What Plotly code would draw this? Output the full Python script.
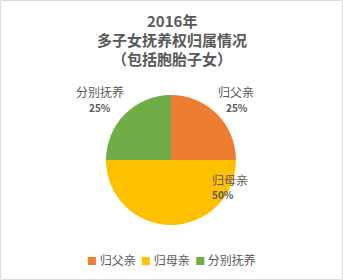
import plotly.graph_objects as go

categories = ["归父亲", "归母亲", "分别抚养"]
values = [25, 50, 25]
colors = ["#ED7D31", "#FFC000", "#70AD47"]
title_lines = ["2016年", "多子女抚养权归属情况", "（包括胞胎子女）"]

FONT = "Noto Sans CJK SC"
GRAY = "#595959"
W, H = 343, 280
fig = go.Figure()
fig.add_trace(go.Pie(
    labels=categories, values=values, sort=False, direction="clockwise", rotation=0,
    marker=dict(colors=colors, line=dict(width=0)),
    textinfo="none", hoverinfo="label+percent",
    domain=dict(x=[0.309, 0.688], y=[0.196, 0.661]),
    showlegend=False,
))

def ann(px, py, text, size, xanchor="center", bold=False):
    fig.add_annotation(x=px / W, y=1 - py / H, xref="paper", yref="paper", showarrow=False,
                       xanchor=xanchor, yanchor="middle", borderpad=0,
                       text=f"<b>{text}</b>" if bold else text,
                       font=dict(family=FONT, size=size, color=GRAY))

total = sum(values)
# (x, y of name line, x of percent, anchor)
label_px = [(236, 92, 237, "center"), (211, 179, 211, "left"), (100, 92, 100, "center")]
for c, v, (px, py, ppx, anc) in zip(categories, values, label_px):
    ann(px, py, c, 12, anc)
    ann(ppx, py + 15, f"{round(v/total*100)}%", 10, anc, bold=True)

for i, t in enumerate(title_lines):
    ann(W / 2, 21 + 18.5 * i, t, 15, bold=True)

legend_text = "  ".join(f"<span style='color:{col};font-size:10px'>■</span> {c}" for c, col in zip(categories, colors))
ann(W / 2, 259, legend_text, 12)

fig.add_shape(type="rect", xref="paper", yref="paper", x0=0.002, y0=0.002, x1=0.998, y1=0.998,
              line=dict(color="#D9D9D9", width=1))

fig.update_layout(
    width=W, height=H, margin=dict(l=0, r=0, t=0, b=0),
    paper_bgcolor="white", plot_bgcolor="white", showlegend=False,
)
fig.write_html("out.html")
